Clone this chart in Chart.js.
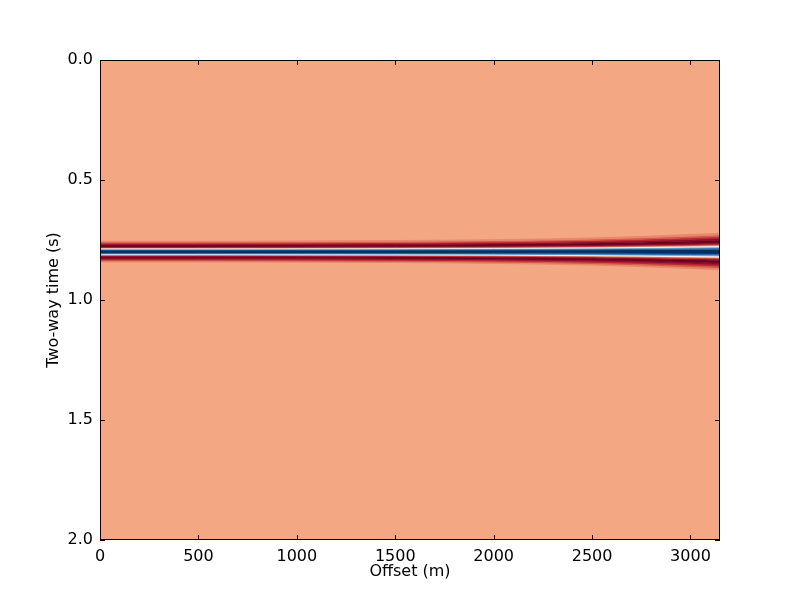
<!DOCTYPE html>
<html>
<head>
<meta charset="utf-8">
<script src="https://cdn.jsdelivr.net/npm/chart.js@4"></script>
<style>
  html, body { margin: 0; padding: 0; background: #fff; }
  #wrap { width: 800px; height: 600px; }
</style>
</head>
<body>
<div id="wrap"><canvas id="gather"></canvas></div>
<script>
// offsets (m) where the band width was read, and how much wider it is there
var offsets = [0, 500, 1000, 1500, 2000, 2500, 3000, 3150];
var stretch = [1.0, 1.0, 1.02, 1.06, 1.14, 1.3, 1.62, 1.75];

// event time (s) at the centre of the band
var eventTime = 0.797;

// half-widths (s) of the wavelet stripes at zero offset, centre outwards
var edgeDist = [0.005, 0.0083, 0.0108, 0.0138, 0.0158, 0.0183, 0.0217, 0.0267, 0.0308, 0.035, 0.0392, 0.0442];
var stripeColors = ['#053061', '#2166ac', '#6fabd2', '#f5f2f0', '#e58a71', '#c13b3b',
                    '#8c0a28', '#67001f', '#8e0c29', '#b72535', '#d25a4a', '#e7876b'];

var xTickValues = [0, 500, 1000, 1500, 2000, 2500, 3000];
var yTickValues = [0, 0.5, 1.0, 1.5, 2.0];
var xRange = [0, 3150];
var yRange = [0, 2.0];

var bgColor = '#f4a783';
var font = { family: 'DejaVu Sans', size: 16 };

// boundary lines from the outer top edge down to the outer bottom edge
var bounds = [];
for (var i = edgeDist.length - 1; i >= 0; i--) bounds.push(-edgeDist[i]);
for (var i = 0; i < edgeDist.length; i++) bounds.push(edgeDist[i]);

var n = edgeDist.length;
var datasets = bounds.map(function (d, k) {
    // colour of the stripe between line k-1 and line k
    var col = k === 0 ? bgColor : (k <= n ? stripeColors[n - k] : stripeColors[k - n]);
    return {
        data: offsets.map(function (x, j) { return { x: x, y: eventTime + d * stretch[j] }; }),
        borderWidth: k === 0 ? 0 : 1,
        borderColor: col,
        backgroundColor: col,
        pointRadius: 0,
        cubicInterpolationMode: 'monotone',
        fill: k === 0 ? false : '-1'
    };
});

var frame = {
    id: 'frame',
    beforeDraw: function (chart) {
        var a = chart.chartArea, ctx = chart.ctx;
        ctx.save();
        ctx.fillStyle = bgColor;
        ctx.fillRect(a.left, a.top, a.right - a.left, a.bottom - a.top);
        ctx.restore();
    },
    afterDraw: function (chart) {
        var a = chart.chartArea, ctx = chart.ctx;
        var xs = chart.scales.x, ys = chart.scales.y;
        var len = 5;
        ctx.save();
        ctx.strokeStyle = '#000';
        ctx.lineWidth = 1;
        ctx.beginPath();
        xs.ticks.forEach(function (t) {
            var px = Math.round(xs.getPixelForValue(t.value)) + 0.5;
            ctx.moveTo(px, a.bottom); ctx.lineTo(px, a.bottom - len);
            ctx.moveTo(px, a.top); ctx.lineTo(px, a.top + len);
        });
        ys.ticks.forEach(function (t) {
            var py = Math.round(ys.getPixelForValue(t.value)) + 0.5;
            ctx.moveTo(a.left, py); ctx.lineTo(a.left + len, py);
            ctx.moveTo(a.right, py); ctx.lineTo(a.right - len, py);
        });
        ctx.stroke();
        ctx.strokeRect(a.left + 0.5, a.top + 0.5, a.right - a.left - 1, a.bottom - a.top - 1);
        ctx.restore();
    }
};

new Chart(document.getElementById('gather'), {
    type: 'line',
    data: { datasets: datasets },
    plugins: [frame],
    options: {
        responsive: true,
        maintainAspectRatio: false,
        animation: false,
        layout: { padding: { top: 60, right: 80, left: 0, bottom: 0 } },
        plugins: { legend: { display: false }, tooltip: { enabled: false } },
        scales: {
            x: {
                type: 'linear',
                min: xRange[0],
                max: xRange[1],
                grid: { display: false, drawTicks: false },
                border: { display: false },
                afterBuildTicks: function (s) { s.ticks = xTickValues.map(function (v) { return { value: v }; }); },
                ticks: { padding: 7, color: '#000', font: font, maxRotation: 0, autoSkip: false,
                         callback: function (v) { return String(v); } },
                title: { display: true, text: 'Offset (m)', color: '#000', font: font, padding: { top: 0, bottom: 19 } },
                afterFit: function (s) { s.height = 60; }
            },
            y: {
                type: 'linear',
                reverse: true,
                min: yRange[0],
                max: yRange[1],
                grid: { display: false, drawTicks: false },
                border: { display: false },
                afterBuildTicks: function (s) { s.ticks = yTickValues.map(function (v) { return { value: v }; }); },
                ticks: { padding: 7, color: '#000', font: font, autoSkip: false,
                         callback: function (v) { return v.toFixed(1); } },
                title: { display: true, text: 'Two-way time (s)', color: '#000', font: font, padding: { top: 44, bottom: 0 } },
                afterFit: function (s) { s.width = 100; }
            }
        }
    }
});
</script>
</body>
</html>
